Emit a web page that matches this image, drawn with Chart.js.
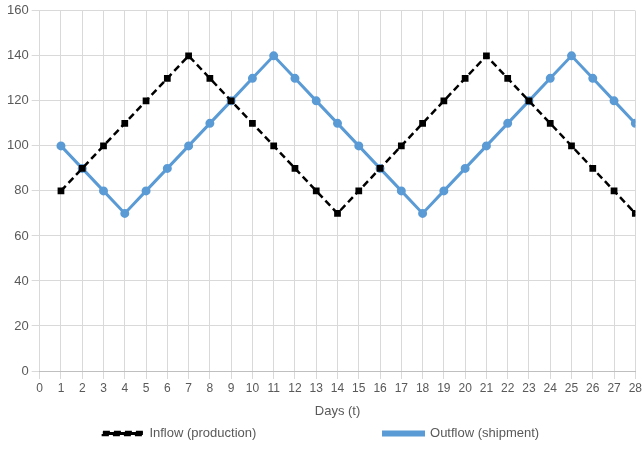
<!DOCTYPE html>
<html><head><script src="https://cdn.jsdelivr.net/npm/chart.js@4"></script>
<style>html,body{margin:0;padding:0;background:#fff}#w{width:644px;height:464px}</style></head>
<body><div id="w"><canvas id="c"></canvas></div>
<script>
const days=[1,2,3,4,5,6,7,8,9,10,11,12,13,14,15,16,17,18,19,20,21,22,23,24,25,26,27,28];
const inflow=[80,90,100,110,120,130,140,130,120,110,100,90,80,70,80,90,100,110,120,130,140,130,120,110,100,90,80,70];
const outflow=[100,90,80,70,80,90,100,110,120,130,140,130,120,110,100,90,80,70,80,90,100,110,120,130,140,130,120,110];
const pts=(v)=>days.map((d,i)=>({x:d,y:v[i]}));
new Chart(document.getElementById('c'),{type:'line',
data:{datasets:[
{label:'Inflow (production)',data:pts(inflow),borderColor:'#000',backgroundColor:'#000',borderWidth:2.5,borderDash:[7,4],pointStyle:'rect',pointRadius:3,tension:0},
{label:'Outflow (shipment)',data:pts(outflow),borderColor:'#5B9BD5',backgroundColor:'#5B9BD5',borderWidth:3,pointStyle:'circle',pointRadius:3,tension:0}]},
options:{responsive:true,maintainAspectRatio:false,animation:false,
layout:{padding:{left:4,right:6,top:8,bottom:14}},
plugins:{legend:{position:'bottom',labels:{boxWidth:40,boxHeight:3,color:'#595959',font:{family:'Liberation Sans',size:13},padding:8,
generateLabels:(ch)=>Chart.defaults.plugins.legend.labels.generateLabels(ch).map((l,i)=>{l.text=i===0?l.text+'                                 ':l.text;return l;})}},tooltip:{enabled:false}},
scales:{x:{type:'linear',min:0,max:28,ticks:{stepSize:1,color:'#595959',font:{family:'Liberation Sans',size:12},maxRotation:0,autoSkip:false,padding:2},grid:{color:'#D9D9D9'},border:{color:'#BFBFBF'},
title:{display:true,text:'Days (t)',color:'#595959',font:{family:'Liberation Sans',size:13},padding:{top:6,bottom:0}}},
y:{min:0,max:160,ticks:{stepSize:20,color:'#595959',font:{family:'Liberation Sans',size:13}},grid:{color:'#D9D9D9'},border:{display:false}}}}});
</script></body></html>
